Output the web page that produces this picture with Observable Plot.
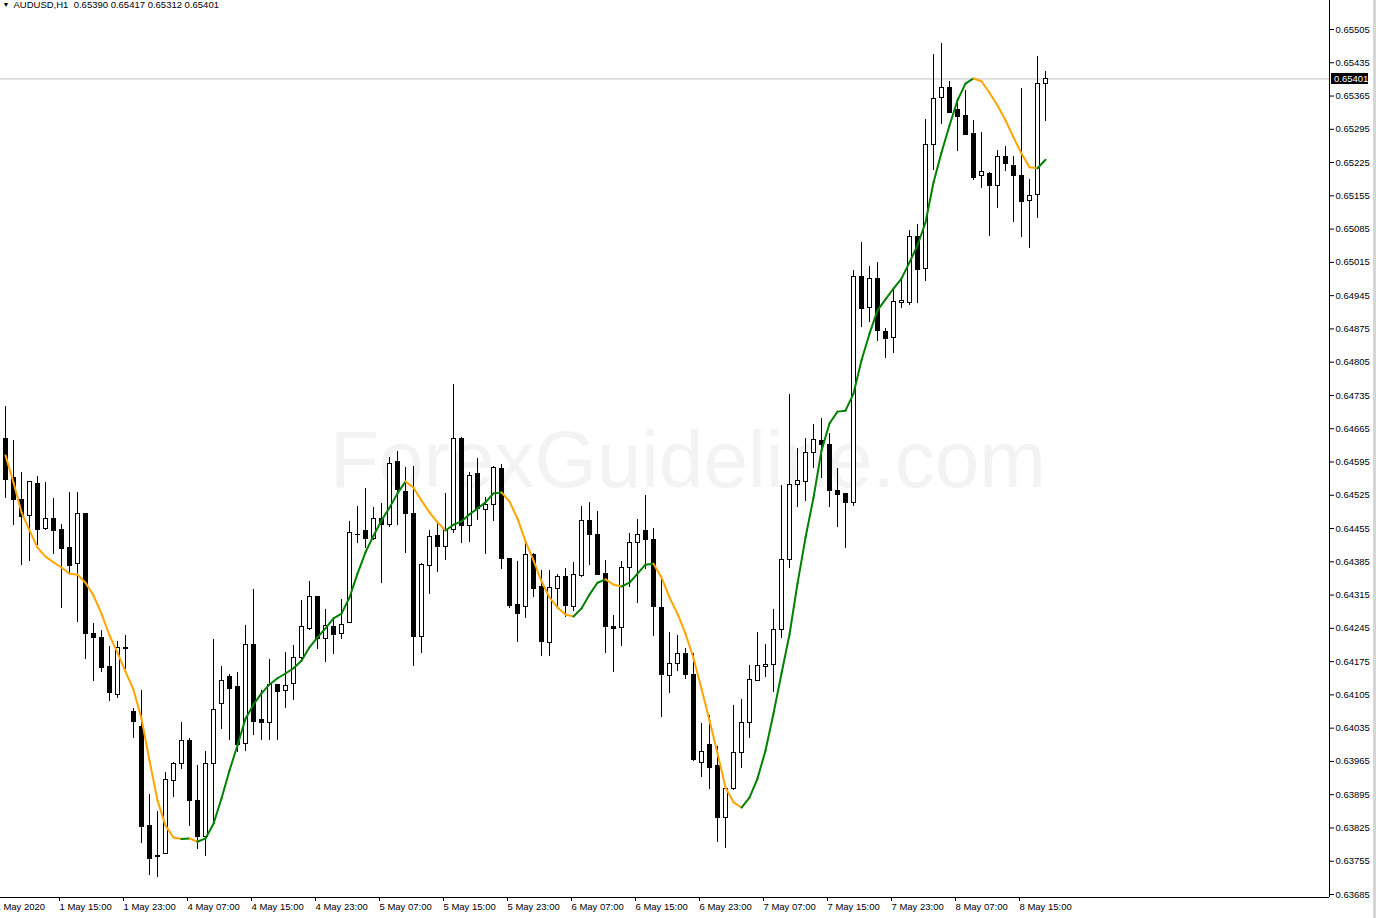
<!DOCTYPE html>
<html>
<head>
<meta charset="utf-8">
<script src="https://cdn.jsdelivr.net/npm/d3@7"></script>
<script src="https://cdn.jsdelivr.net/npm/@observablehq/plot@0.6"></script>
<style>
html, body { margin: 0; padding: 0; background: #fff; overflow: hidden; }
#chart { position: relative; width: 1376px; height: 918px; }
#chart svg { display: block; }
#strip { position: absolute; right: 0; top: 0; width: 3px; height: 918px; background: #d6d6d6; }
</style>
</head>
<body>
<div id="chart"><div id="strip"></div></div>
<script>
// ---- data (AUDUSD H1, 1 May 08:00 .. 8 May 18:00) ----
const symbol = "AUDUSD,H1";
const watermark = "ForexGuideline.com";

const open = [
0.64644,0.64562,0.64514,0.64482,0.64548,0.64453,0.64476,0.64451,0.64415,0.64381,
0.64485,0.64234,0.64224,0.64163,0.64104,0.64203,0.64068,0.64038,0.63830,0.63763,
0.63771,0.63923,0.63959,0.64007,0.63881,0.63807,0.63959,0.64085,0.64142,0.64121,
0.64001,0.64211,0.64053,0.64045,0.64125,0.64114,0.64127,0.64182,0.64243,0.64310,
0.64222,0.64247,0.64234,0.64257,0.64442,0.64449,0.64432,0.64476,0.64463,0.64594,
0.64531,0.64485,0.64226,0.64377,0.64440,0.64417,0.64451,0.64644,0.64461,0.64569,
0.64495,0.64504,0.64581,0.64390,0.64295,0.64289,0.64400,0.64331,0.64215,0.64327,
0.64352,0.64289,0.64356,0.64470,0.64442,0.64360,0.64247,0.64245,0.64371,0.64424,
0.64449,0.64430,0.64287,0.64144,0.64171,0.64190,0.64146,0.63961,0.63999,0.63956,
0.63847,0.63906,0.63982,0.64045,0.64135,0.64163,0.64167,0.64241,0.64388,0.64546,
0.64552,0.64613,0.64640,0.64630,0.64535,0.64527,0.64508,0.64985,0.64918,0.64979,
0.64868,0.64855,0.64929,0.64929,0.65069,0.65002,0.65263,0.65360,0.65381,0.65335,
0.65322,0.65286,0.65196,0.65202,0.65175,0.65236,0.65217,0.65196,0.65145,0.65156,
0.65390];

const high = [
0.64712,0.64640,0.64573,0.64555,0.64565,0.64552,0.64518,0.64463,0.64531,0.64531,
0.64487,0.64255,0.64240,0.64207,0.64217,0.64230,0.64076,0.64114,0.63895,0.63860,
0.63942,0.63963,0.64047,0.64013,0.63956,0.63986,0.64222,0.64165,0.64148,0.64152,
0.64251,0.64327,0.64114,0.64180,0.64127,0.64194,0.64209,0.64304,0.64344,0.64312,
0.64285,0.64268,0.64306,0.64470,0.64501,0.64539,0.64499,0.64508,0.64605,0.64617,
0.64583,0.64586,0.64381,0.64451,0.64470,0.64529,0.64758,0.64646,0.64573,0.64602,
0.64520,0.64585,0.64590,0.64392,0.64386,0.64424,0.64402,0.64367,0.64367,0.64358,
0.64371,0.64384,0.64501,0.64510,0.64491,0.64388,0.64272,0.64386,0.64445,0.64474,
0.64525,0.64455,0.64348,0.64236,0.64230,0.64203,0.64192,0.64045,0.64062,0.63996,
0.63908,0.64083,0.64095,0.64167,0.64236,0.64211,0.64285,0.64546,0.64737,0.64623,
0.64644,0.64674,0.64687,0.64655,0.64581,0.64529,0.64998,0.65057,0.65006,0.65015,
0.64876,0.64956,0.64979,0.65082,0.65095,0.65316,0.65452,0.65476,0.65396,0.65360,
0.65377,0.65314,0.65288,0.65204,0.65250,0.65259,0.65238,0.65381,0.65189,0.65448,
0.65417];

const low = [
0.64518,0.64461,0.64377,0.64386,0.64419,0.64451,0.64400,0.64287,0.64360,0.64257,
0.64180,0.64133,0.64152,0.64091,0.64097,0.64158,0.64013,0.63792,0.63725,0.63721,
0.63769,0.63889,0.63948,0.63828,0.63780,0.63765,0.63834,0.64032,0.64009,0.63984,
0.63986,0.64020,0.64009,0.64009,0.64009,0.64076,0.64093,0.64177,0.64241,0.64201,
0.64173,0.64190,0.64222,0.64255,0.64424,0.64413,0.64430,0.64339,0.64457,0.64461,
0.64403,0.64165,0.64192,0.64316,0.64363,0.64388,0.64445,0.64424,0.64426,0.64472,
0.64400,0.64470,0.64369,0.64287,0.64215,0.64266,0.64310,0.64186,0.64186,0.64285,
0.64268,0.64280,0.64352,0.64377,0.64356,0.64192,0.64152,0.64207,0.64331,0.64297,
0.64369,0.64228,0.64057,0.64108,0.64154,0.64137,0.63965,0.63931,0.63906,0.63794,
0.63782,0.63904,0.63950,0.64013,0.64133,0.64142,0.64110,0.64224,0.64371,0.64499,
0.64512,0.64581,0.64560,0.64499,0.64457,0.64413,0.64501,0.64878,0.64889,0.64849,
0.64813,0.64823,0.64918,0.64924,0.64929,0.64975,0.65208,0.65305,0.65328,0.65248,
0.65282,0.65187,0.65170,0.65069,0.65128,0.65206,0.65099,0.65067,0.65044,0.65107,
0.65312];

const close = [
0.64558,0.64516,0.64480,0.64552,0.64451,0.64476,0.64449,0.64413,0.64377,0.64485,
0.64234,0.64224,0.64161,0.64108,0.64203,0.64202,0.64049,0.63826,0.63759,0.63767,
0.63925,0.63959,0.64009,0.63881,0.63805,0.63959,0.64074,0.64135,0.64118,0.63999,
0.64211,0.64047,0.64045,0.64125,0.64112,0.64123,0.64182,0.64247,0.64312,0.64222,
0.64249,0.64232,0.64253,0.64445,0.64441,0.64432,0.64476,0.64463,0.64590,0.64537,
0.64485,0.64226,0.64379,0.64438,0.64417,0.64451,0.64644,0.64461,0.64565,0.64497,
0.64504,0.64583,0.64390,0.64293,0.64276,0.64400,0.64327,0.64217,0.64329,0.64352,
0.64291,0.64358,0.64470,0.64442,0.64358,0.64247,0.64243,0.64371,0.64424,0.64442,
0.64430,0.64289,0.64146,0.64171,0.64190,0.64146,0.63967,0.63984,0.63952,0.63847,
0.63906,0.63982,0.64045,0.64137,0.64165,0.64167,0.64241,0.64388,0.64546,0.64554,
0.64613,0.64642,0.64630,0.64533,0.64525,0.64508,0.64985,0.64916,0.64979,0.64870,
0.64853,0.64931,0.64933,0.65069,0.65000,0.65263,0.65358,0.65381,0.65330,0.65320,
0.65284,0.65192,0.65206,0.65175,0.65236,0.65223,0.65196,0.65141,0.65154,0.65391,
0.65401];

// smoothed moving average
const ma = [
0.64609,0.64552,0.64489,0.64451,0.64415,0.64396,0.64384,0.64373,0.64360,0.64358,
0.64341,0.64314,0.64276,0.64230,0.64194,0.64154,0.64116,0.64055,0.63967,0.63883,
0.63830,0.63805,0.63802,0.63803,0.63796,0.63803,0.63834,0.63887,0.63946,0.63999,
0.64055,0.64085,0.64108,0.64127,0.64140,0.64150,0.64161,0.64177,0.64205,0.64226,
0.64245,0.64266,0.64276,0.64310,0.64360,0.64405,0.64440,0.64472,0.64499,0.64529,
0.64554,0.64541,0.64514,0.64489,0.64468,0.64451,0.64463,0.64470,0.64485,0.64497,
0.64510,0.64529,0.64531,0.64512,0.64476,0.64428,0.64388,0.64344,0.64310,0.64289,
0.64274,0.64270,0.64287,0.64316,0.64341,0.64348,0.64337,0.64333,0.64341,0.64360,
0.64379,0.64381,0.64352,0.64310,0.64276,0.64234,0.64182,0.64118,0.64051,0.63982,
0.63910,0.63879,0.63868,0.63889,0.63929,0.63988,0.64066,0.64150,0.64232,0.64339,
0.64436,0.64520,0.64619,0.64676,0.64701,0.64703,0.64739,0.64809,0.64865,0.64914,
0.64937,0.64960,0.64981,0.65015,0.65051,0.65099,0.65183,0.65246,0.65303,0.65356,
0.65391,0.65402,0.65396,0.65372,0.65345,0.65314,0.65278,0.65244,0.65215,0.65213,
0.65231];

const timeIndex = [-1, 7, 15, 23, 31, 39, 47, 55, 63, 71, 79, 87, 95, 103, 111, 119, 127];
const timeLabels = ["1 May 2020","1 May 15:00","1 May 23:00","4 May 07:00","4 May 15:00","4 May 23:00",
  "5 May 07:00","5 May 15:00","5 May 23:00","6 May 07:00","6 May 15:00","6 May 23:00",
  "7 May 07:00","7 May 15:00","7 May 23:00","8 May 07:00","8 May 15:00"];

const priceTicks = [0.63685,0.63755,0.63825,0.63895,0.63965,0.64035,0.64105,0.64175,0.64245,
  0.64315,0.64385,0.64455,0.64525,0.64595,0.64665,0.64735,0.64805,0.64875,0.64945,0.65015,
  0.65085,0.65155,0.65225,0.65295,0.65365,0.65435,0.65505];

// ---- derived tables ----
const n = open.length - 1;
const candles = open.map((o, i) => ({i, open: o, high: high[i], low: low[i], close: close[i]}));
const segs = ma.slice(1).map((v, j) => ({i0: j, i1: j + 1, v0: ma[j], v1: v, up: v > ma[j]}));
const tickPos = timeIndex.map(i => i - 0.5);
const f5 = v => v.toFixed(5);
const header = `${symbol}  ${f5(open[n])} ${f5(high[n])} ${f5(low[n])} ${f5(close[n])}`;

const chart = Plot.plot({
  width: 1376,
  height: 918,
  marginTop: 0,
  marginLeft: 0,
  marginRight: 47,
  marginBottom: 21,
  style: {fontFamily: "'Liberation Sans', Arial, sans-serif", fontSize: "9.5px", background: "#fff", color: "#000", overflow: "visible"},
  x: {type: "linear", domain: [-0.625, 165.5], axis: null},
  y: {domain: [0.636787, 0.65566], axis: null},
  color: {type: "identity"},
  marks: [
    Plot.text([watermark], {text: d => d, frameAnchor: "middle", dx: 23, dy: 12, fontSize: 80, fill: "#f3f3f3"}),
    Plot.ruleY([close[n]], {stroke: "#c0c0c0", strokeWidth: 1}),
    Plot.ruleX(candles, {x: "i", y1: "low", y2: "high", stroke: "#000", strokeWidth: 1, shapeRendering: "crispEdges"}),
    Plot.rect(candles, {
      x1: d => d.i - 0.25, x2: d => d.i + 0.25, y1: "open", y2: "close",
      fill: d => d.close >= d.open ? "#ffffff" : "#000000",
      stroke: "#000", strokeWidth: 1, shapeRendering: "crispEdges"
    }),
    Plot.link(segs, {
      x1: "i0", x2: "i1", y1: "v0", y2: "v1",
      stroke: d => d.up ? "#008000" : "#ffa500",
      strokeWidth: 2, strokeLinecap: "round"
    }),
    Plot.ruleX([165.5], {stroke: "#000"}),
    Plot.ruleY([0.636787], {stroke: "#000"}),
    Plot.axisY({anchor: "right", ticks: priceTicks, tickFormat: f5, tickSize: 4, tickPadding: 2, label: null, fill: "#000"}),
    Plot.axisX({anchor: "bottom", ticks: tickPos, tickFormat: d => timeLabels[tickPos.indexOf(d)],
      tickSize: 4, tickPadding: 2, textAnchor: "start", dx: 2, label: null, fill: "#000"}),
    Plot.text([header], {text: d => d, frameAnchor: "top-left", dx: 13, dy: 1, lineAnchor: "top", textAnchor: "start", fill: "#000"}),
    Plot.text(["\u25BC"], {text: d => d, frameAnchor: "top-left", dx: 2, dy: 2, lineAnchor: "top", textAnchor: "start", fontSize: 7, fill: "#000"})
  ]
});

document.getElementById("chart").appendChild(chart);

// current price marker on the price axis
const yPix = chart.scale("y").apply(close[n]);
const g = d3.select(chart).append("g");
g.append("rect").attr("x", 1331).attr("y", Math.round(yPix) - 5).attr("width", 37).attr("height", 11).attr("fill", "#000");
g.append("text").attr("x", 1334).attr("y", yPix).attr("dy", "0.34em").attr("fill", "#fff")
  .attr("text-anchor", "start").attr("font-size", "9.5px").text(f5(close[n]));
</script>
</body>
</html>
